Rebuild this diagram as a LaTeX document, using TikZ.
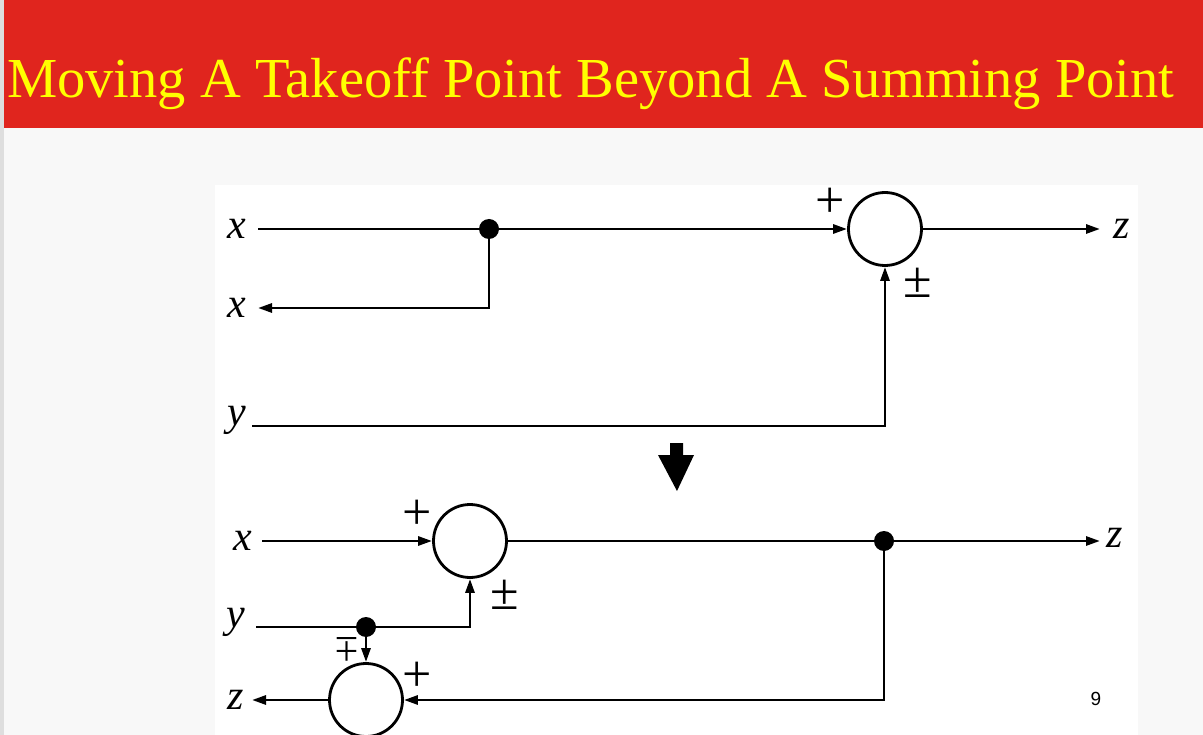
\documentclass[tikz,border=0pt]{standalone}
\usepackage{fontspec}
\setmainfont{Liberation Serif}
\setsansfont{Liberation Sans}
\usetikzlibrary{arrows.meta}
\definecolor{band}{RGB}{224,37,30}
\definecolor{slide}{RGB}{248,248,248}
\definecolor{titleyel}{RGB}{255,255,0}
\newcommand{\minusplus}{\rotatebox[origin=c]{180}{±}}
\begin{document}
\begin{tikzpicture}[x=1pt,y=-1pt,
 wire/.style={line width=2.8pt},
 sig/.style={wire,-{Triangle[length=14pt,width=9pt]}},
 sumpt/.style={circle,draw,line width=2.8pt,minimum size=73pt,inner sep=0},
 tdot/.style={circle,fill,minimum size=20pt,inner sep=0},
 lbl/.style={font=\fontsize{42}{42}\selectfont\itshape,inner sep=0},
 sgn/.style={font=\fontsize{52}{52}\selectfont,inner sep=0},
 sgnsmall/.style={font=\fontsize{42}{42}\selectfont,inner sep=0},
]
\useasboundingbox (0,0) rectangle (1203,735);
\fill[slide] (0,0) rectangle (1203,735);
\fill[black!13] (0,0) rectangle (4,735);
\fill[band] (4,0) rectangle (1203,128);
\fill[white] (215,185) rectangle (1138,735);
\node[anchor=base west,inner sep=0,text=titleyel,font=\fontsize{56.5}{56.5}\selectfont] (title) at (7,98) {Moving A Takeoff Point Beyond A Summing Point};

% ---- top diagram ----
\node[sumpt] (s1) at (885,229) {};
\node[lbl] (x1) at (237,229) {x};
\node[lbl] (x2) at (237,308) {x};
\node[lbl] (y1) at (237,420) {y};
\node[lbl] (z1) at (1122,229) {z};
\node[sgn] (p1) at (830,203) {+};
\node[sgn] (pm1) at (918,283) {±};
\coordinate (x1in) at (258,229);
\coordinate (x2out) at (258,308);
\coordinate (y1in) at (252,426);
\coordinate (z1out) at (1100,229);
\coordinate (tk1) at (489,229);
\draw[sig] (x1in) -- (s1.west);
\draw[sig] (tk1) |- (x2out);
\draw[sig] (y1in) -| (s1.south);
\draw[sig] (s1.east) -- (z1out);
\node[tdot] (d1) at (tk1) {};

% ---- big arrow ----
\fill (670,443) -- (683,443) -- (683,455) -- (694,455) -- (677,491) -- (658,455) -- (670,455) -- cycle;

% ---- bottom diagram ----
\node[sumpt] (s2) at (470,541) {};
\node[sumpt] (s3) at (366,700) {};
\node[lbl] (x3) at (243,541) {x};
\node[lbl] (y2) at (236,622) {y};
\node[lbl] (z2) at (1115,538) {z};
\node[lbl] (z3) at (236,700) {z};
\node[sgn] (p2) at (417,515) {+};
\node[sgn] (pm2) at (505,595) {±};
\node[sgnsmall] (mp1) at (347,649) {\minusplus};
\node[sgn] (p3) at (417,677) {+};
\coordinate (x3in) at (262,541);
\coordinate (y2in) at (256,627);
\coordinate (z2out) at (1100,541);
\coordinate (z3out) at (252,700);
\coordinate (tk2) at (884,541);
\coordinate (tk3) at (366,627);
\draw[sig] (x3in) -- (s2.west);
\draw[sig] (s2.east) -- (z2out);
\draw[sig] (tk2) |- (s3.east);
\draw[sig] (y2in) -| (s2.south);
\draw[sig] (tk3) -- (s3.north);
\draw[sig] (s3.west) -- (z3out);
\node[tdot] (d2) at (tk2) {};
\node[tdot] (d3) at (tk3) {};

\node[font=\sffamily\fontsize{19}{19}\selectfont,inner sep=0] (pg) at (1096,699) {9};
\end{tikzpicture}
\end{document}
